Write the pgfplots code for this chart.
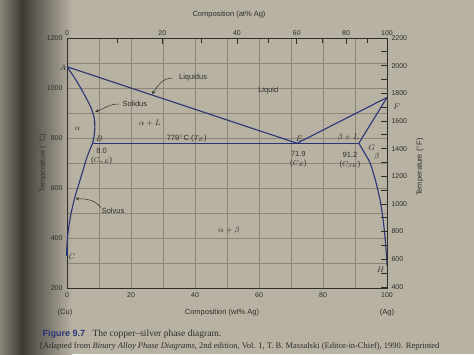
\documentclass[border=0pt]{standalone}
\usepackage{pgfplots}
\pgfplotsset{compat=1.18}
\usepackage{fontspec}
\setmainfont{Liberation Sans}
\newfontfamily\serif{Liberation Serif}
\definecolor{paper}{HTML}{B8B2A3}
\definecolor{gridc}{HTML}{8C8679}
\definecolor{curve}{HTML}{2A3478}
\definecolor{ink}{HTML}{2E2D2A}
\definecolor{dark}{HTML}{3E3B35}
\begin{document}
\begin{tikzpicture}
\useasboundingbox (0pt,0pt) rectangle (474pt,354pt);
\fill[paper] (0pt,0pt) rectangle (474pt,354pt);
\shade[left color=paper!75!black, right color=dark] (0pt,0pt) rectangle (22pt,354pt);
\shade[left color=dark, right color=paper] (22pt,0pt) rectangle (72pt,354pt);

% main axis (wt% Ag, deg C)
\begin{axis}[at={(67pt,66pt)}, anchor=south west, scale only axis,
  width=320pt, height=250pt,
  xmin=0, xmax=100, ymin=200, ymax=1200, clip=false,
  xtick={0,20,...,100}, minor xtick={10,30,...,90},
  ytick={200,400,...,1200}, minor ytick={300,500,...,1100},
  grid=both, grid style={gridc, line width=0.5pt},
  major grid style={gridc, line width=0.5pt},
  minor grid style={gridc, line width=0.5pt},
  major tick length=0pt, minor tick length=0pt,
  axis line style={ink, line width=0.8pt},
  /pgf/number format/assume math mode=true,
  /pgf/number format/1000 sep={},
  tick label style={font=\fontsize{7}{8}\selectfont, text=ink},
  xticklabel style={yshift=-1pt},
  yticklabel style={xshift=-1pt},
]
% liquidus A-E-F
\addplot[curve, line width=1.1pt] coordinates {(0,1085) (71.9,779) (100,962)};
% eutectic isotherm
\addplot[curve, line width=1.1pt] coordinates {(8.0,779) (91.2,779)};
% alpha solidus
\addplot[curve, line width=1.1pt, smooth, tension=0.5] coordinates {(0,1085) (2,1048) (4,1006) (6,960) (7.6,918) (8.5,880) (8.7,845) (8.5,810) (8.0,779)};
% beta solidus
\addplot[curve, line width=1.1pt] coordinates {(100,962) (91.2,779)};
% alpha solvus
\addplot[curve, line width=1.1pt, smooth, tension=0.5] coordinates {(8.0,779) (6.3,725) (4.1,632) (2.5,565) (1.3,500) (0.5,440) (0.1,395) (0,365)};
\addplot[curve, line width=1.1pt] coordinates {(0,365) (0,330)};
% beta solvus
\addplot[curve, line width=1.1pt, smooth, tension=0.5] coordinates {(91.2,779) (93,740) (94.7,700) (96.5,625) (98,540) (99,450) (99.6,370) (99.9,320) (100,290)};

% annotations
\begin{scope}[font=\fontsize{7.5}{8.5}\selectfont, text=ink]
\node at (axis cs:39.4,1040) {Liquidus};
\draw[ink, line width=0.5pt, -stealth] (axis cs:33.0,1040) to[out=180, in=55] (axis cs:26.6,976);
\node at (axis cs:21.2,936) {Solidus};
\draw[ink, line width=0.5pt, -stealth] (axis cs:16.2,936) to[out=180, in=20] (axis cs:8.9,905);
\node at (axis cs:14.4,508) {Solvus};
\draw[ink, line width=0.5pt, -stealth] (axis cs:10.6,522) to[out=130, in=0] (axis cs:2.7,557);
\node at (axis cs:62.9,988) {Liquid};
\node at (axis cs:37.4,799) {779$^\circ$C ($T_E$)};
\node at (axis cs:10.8,749) {8.0};
\node at (axis cs:10.8,709) {($C_{\alpha E}$)};
\node at (axis cs:72.3,737) {71.9};
\node at (axis cs:72.3,697) {($C_{E}$)};
\node at (axis cs:88.4,733) {91.2};
\node at (axis cs:88.4,693) {($C_{\beta E}$)};
\end{scope}
\begin{scope}[font=\fontsize{8}{9}\selectfont, text=ink]
\node at (axis cs:25.9,859) {$\alpha + L$};
\node at (axis cs:87.9,803) {$\beta + L$};
\node at (axis cs:3.2,836) {$\alpha$};
\node at (axis cs:96.8,725) {$\beta$};
\node at (axis cs:50.6,432) {$\alpha + \beta$};
\node at (axis cs:-1.3,1082) {$A$};
\node at (axis cs:10.1,795) {$B$};
\node at (axis cs:72.6,795) {$E$};
\node at (axis cs:95.2,760) {$G$};
\node at (axis cs:103,925) {$F$};
\node at (axis cs:1.6,325) {$C$};
\node at (axis cs:98.0,272) {$H$};
\end{scope}
\end{axis}

% top axis (at% Ag)
\begin{axis}[at={(67pt,66pt)}, anchor=south west, scale only axis,
  width=320pt, height=250pt,
  xmin=0, xmax=100, ymin=0, ymax=1,
  axis x line*=top, axis y line=none,
  xtick={0,29.8,53.1,71.8,87.2,100},
  xticklabels={0,20,40,60,80,100},
  minor xtick={15.87,42.11,62.93,79.84,93.86},
  tick align=inside, major tick length=6pt, minor tick length=5pt,
  tick style={ink, line width=0.7pt},
  axis line style={ink, line width=0.8pt},
  tick label style={font=\fontsize{7}{8}\selectfont, text=ink},
  xticklabel style={yshift=-1pt},
]
\end{axis}

% right axis (deg F)
\begin{axis}[at={(67pt,66pt)}, anchor=south west, scale only axis,
  width=320pt, height=250pt,
  xmin=0, xmax=100, ymin=392, ymax=2200,
  axis y line*=right, axis x line=none,
  ytick={400,600,...,2200}, minor ytick={500,700,...,2100},
  tick align=inside, major tick length=6pt, minor tick length=6pt,
  tick style={ink, line width=0.7pt},
  axis line style={ink, line width=0.8pt},
  /pgf/number format/assume math mode=true,
  /pgf/number format/1000 sep={},
  tick label style={font=\fontsize{7}{8}\selectfont, text=ink},
  yticklabel style={xshift=1pt},
]
\end{axis}

% axis titles
\begin{scope}[font=\fontsize{7.5}{8.5}\selectfont, text=ink]
\node at (229pt,339pt) {Composition (at\% Ag)};
\node at (222pt,41pt) {Composition (wt\% Ag)};
\node at (65pt,41pt) {(Cu)};
\node at (387pt,41pt) {(Ag)};
\node[rotate=90, text=black!80] at (43pt,191pt) {Temperature ($^\circ$C)};
\node[rotate=90] at (420pt,187pt) {Temperature ($^\circ$F)};
\end{scope}

% caption
\node[anchor=base west, font=\bfseries\fontsize{9}{10}\selectfont, text=curve] at (39pt,18pt) {Figure 9.7};
\node[anchor=base west, font=\serif\fontsize{9.5}{10}\selectfont, text=ink] at (89pt,18pt) {The copper–silver phase diagram.};
\node[anchor=base west, font=\serif\fontsize{8.5}{9}\selectfont, text=ink, inner sep=0pt] at (40pt,6pt) {[Adapted from \textit{Binary Alloy Phase Diagrams}, 2nd edition, Vol. 1, T. B. Massalski (Editor-in-Chief), 1990. Reprinted};
\end{tikzpicture}
\end{document}
